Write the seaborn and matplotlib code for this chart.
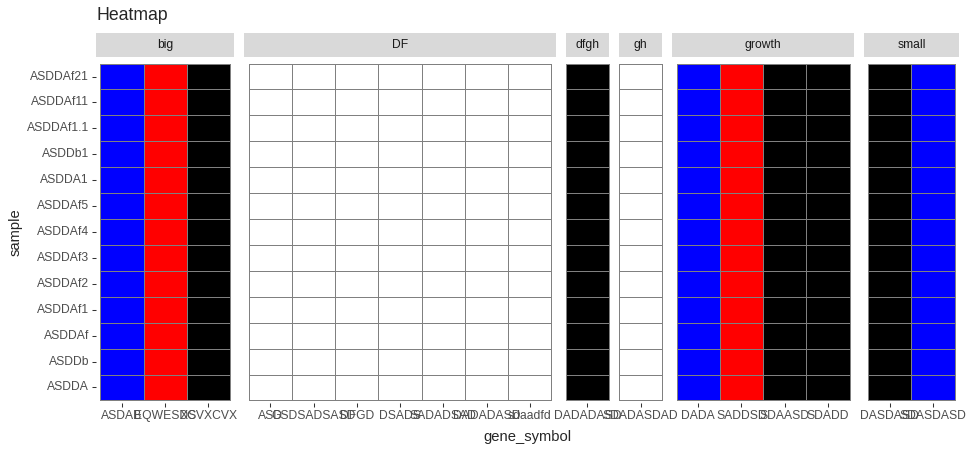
import numpy as np
import pandas as pd
import matplotlib
matplotlib.use('Agg')
import matplotlib.pyplot as plt
from matplotlib.colors import ListedColormap
import seaborn as sns

sns.set_style('white')
plt.rcParams['font.family'] = ['Liberation Sans', 'DejaVu Sans']

# 데이터
samples = ["ASDDAf21", "ASDDAf11", "ASDDAf1.1", "ASDDb1", "ASDDA1", "ASDDAf5",
           "ASDDAf4", "ASDDAf3", "ASDDAf2", "ASDDAf1", "ASDDAf", "ASDDb", "ASDDA"]
groups = ["big", "DF", "dfgh", "gh", "growth", "small"]
genes = {
    "big": ["ASDAB", "EQWESDS", "XCVXCVX"],
    "DF": ["ASD", "GSDSADSASD", "DFGD", "DSADS", "SADADSAD", "DADADASD", "sdaadfd"],
    "dfgh": ["DADADASD"],
    "gh": ["SDADASDAD"],
    "growth": ["DADA", "SADDSD", "SDAASD", "SDADD"],
    "small": ["DASDASD", "SDASDASD"],
}
gene_level = {
    "big": ["blue", "red", "black"],
    "DF": ["white"] * 7,
    "dfgh": ["black"],
    "gh": ["white"],
    "growth": ["blue", "red", "black", "black"],
    "small": ["black", "blue"],
}
levels = ["blue", "red", "black", "white"]
cmap = ListedColormap(["#0000FF", "#FF0000", "#000000", "#FFFFFF"])

W, H = 967, 451
fig = plt.figure(figsize=(W / 100, H / 100), dpi=100)

left, right, gap = 96, 959, 10
widths_u = [len(genes[g]) + (0.2 if len(genes[g]) > 1 else 0) for g in groups]
unit = (right - left - gap * (len(groups) - 1)) / sum(widths_u)
ax_top, ax_bot = 61, 403
strip_top, strip_bot = 33, 57

x = left
for i, g in enumerate(groups):
    n = len(genes[g])
    wpx = widths_u[i] * unit
    ax = fig.add_axes([x / W, 1 - ax_bot / H, wpx / W, (ax_bot - ax_top) / H])
    codes = [levels.index(c) for c in gene_level[g]]
    df = pd.DataFrame([codes] * len(samples), index=samples, columns=genes[g])
    sns.heatmap(df, cmap=cmap, vmin=-0.5, vmax=3.5, cbar=False,
                linewidths=0.5, linecolor='#808080', ax=ax,
                xticklabels=True, yticklabels=(i == 0))
    ax.collections[0].set_clip_on(False)
    pad = 0.1 if n > 1 else 0
    ax.set_xlim(-pad, n + pad)
    ax.set_ylim(len(samples) + 0.1, -0.1)
    ax.set_xlabel('')
    ax.set_ylabel('')
    ax.tick_params(axis='x', rotation=0, labelsize=8.7, labelcolor='#4d4d4d',
                   length=3, width=0.75, color='#333333', pad=2, bottom=True)
    if i == 0:
        ax.tick_params(axis='y', rotation=0, labelsize=8.7, labelcolor='#4d4d4d',
                       length=3, width=0.75, color='#333333', pad=2, left=True)
    else:
        ax.tick_params(axis='y', left=False, labelleft=False)
    for s in ax.spines.values():
        s.set_visible(False)

    sax = fig.add_axes([x / W, 1 - strip_bot / H, wpx / W, (strip_bot - strip_top) / H])
    sax.set_facecolor('#d9d9d9')
    sax.set_xticks([])
    sax.set_yticks([])
    for s in sax.spines.values():
        s.set_visible(False)
    sax.text(0.5, 0.5, g, ha='center', va='center', fontsize=8.7,
             color='#1a1a1a', transform=sax.transAxes)
    x += wpx + gap

fig.text(left / W, 1 - 16 / H, 'Heatmap', fontsize=12.7, ha='left', va='center')
fig.text((left + right) / 2 / W, 1 - 437 / H, 'gene_symbol', fontsize=10.6,
         ha='center', va='center')
fig.text(16 / W, 1 - (ax_top + ax_bot) / 2 / H, 'sample', fontsize=10.6,
         ha='center', va='center', rotation=90)

fig.savefig('out.png', dpi=100, facecolor='white')
